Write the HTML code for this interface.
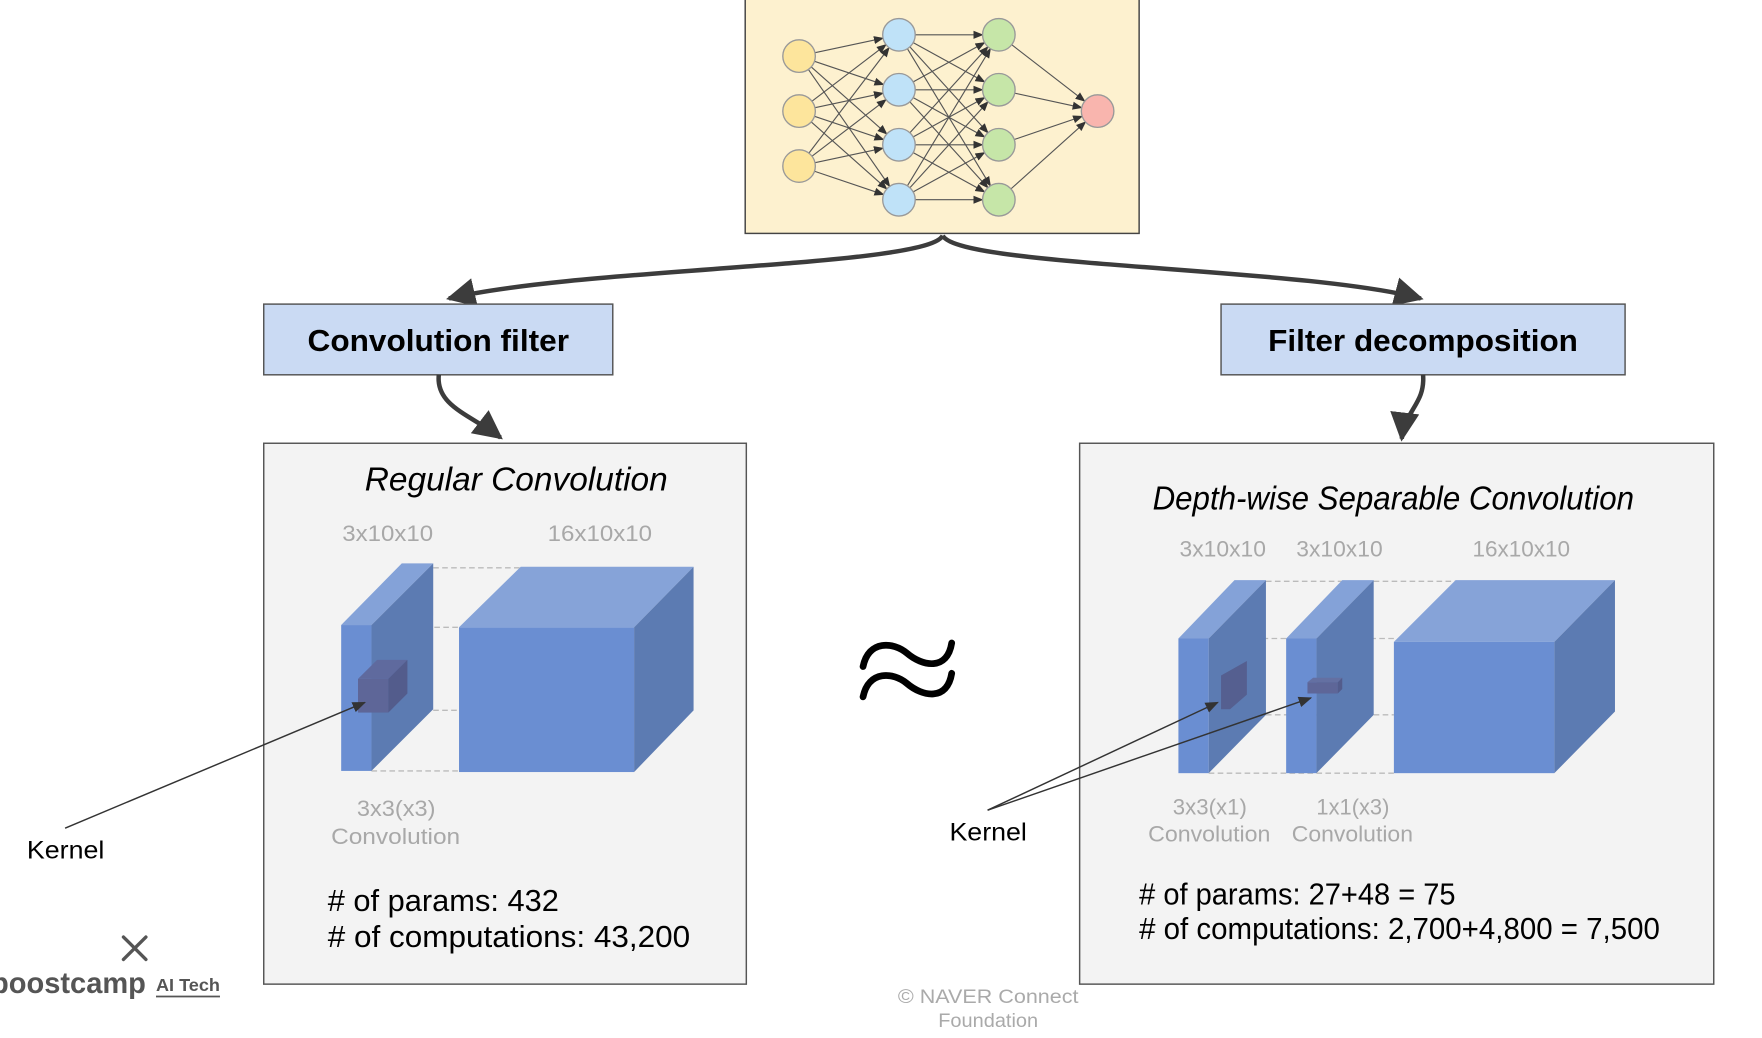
<!DOCTYPE html>
<html><head><meta charset="utf-8"><style>
html,body{margin:0;padding:0;background:#fff;}
svg{display:block;}
text{font-family:"Liberation Sans","DejaVu Sans",sans-serif;}
.g{fill:#a8a8a8;font-size:20px;}
.b{fill:#000;font-size:27px;}
</style></head><body>
<svg id="s" width="1762" height="1038" viewBox="0 0 1570 925" preserveAspectRatio="none" xmlns="http://www.w3.org/2000/svg">
<defs>
<marker id="ah" viewBox="0 0 10 10" refX="9" refY="5" markerWidth="9" markerHeight="9" orient="auto" markerUnits="userSpaceOnUse"><path d="M0,1 L10,5 L0,9 z" fill="#333"/></marker>
<marker id="big" viewBox="0 0 10 10" refX="9" refY="5" markerWidth="26" markerHeight="26" orient="auto" markerUnits="userSpaceOnUse"><path d="M0,0 L10,5 L0,10 z" fill="#3c3c3c"/></marker>
<marker id="sm" viewBox="0 0 10 10" refX="9" refY="5" markerWidth="12" markerHeight="12" orient="auto" markerUnits="userSpaceOnUse"><path d="M0,1 L10,5 L0,9 z" fill="#333"/></marker>
</defs>
<rect x="664" y="-1" width="351" height="209" fill="#fdf1cf" stroke="#444" stroke-width="1.3"/>
<g id="edges" stroke="#555" stroke-width="1"></g>
<g id="nodes" stroke="#999" stroke-width="1.2"></g>

<path d="M840,210 C825,238 520,238 400,266" fill="none" stroke="#3c3c3c" stroke-width="4" marker-end="url(#big)"/>
<path d="M840,210 C855,238 1160,238 1266,266" fill="none" stroke="#3c3c3c" stroke-width="4" marker-end="url(#big)"/>

<rect x="235" y="271" width="311" height="63" fill="#cadaf3" stroke="#555" stroke-width="1.3"/>
<text x="274" y="313" textLength="233" lengthAdjust="spacingAndGlyphs" style="font-weight:bold;font-size:27px">Convolution filter</text>
<rect x="1088" y="271" width="360" height="63" fill="#cadaf3" stroke="#555" stroke-width="1.3"/>
<text x="1130" y="313" textLength="276" lengthAdjust="spacingAndGlyphs" style="font-weight:bold;font-size:27px">Filter decomposition</text>

<path d="M391,334 C388,362 420,370 446,390" fill="none" stroke="#3c3c3c" stroke-width="4" marker-end="url(#big)"/>
<path d="M1268,334 C1270,360 1252,365 1249,391" fill="none" stroke="#3c3c3c" stroke-width="4" marker-end="url(#big)"/>

<rect x="235" y="395" width="430" height="482" fill="#f3f3f3" stroke="#555" stroke-width="1.3"/>
<rect x="962" y="395" width="565" height="482" fill="#f3f3f3" stroke="#555" stroke-width="1.3"/>

<text x="325" y="437" textLength="270" lengthAdjust="spacingAndGlyphs" style="font-style:italic;font-size:30px">Regular Convolution</text>
<text class="g" x="305" y="482" textLength="81" lengthAdjust="spacingAndGlyphs">3x10x10</text>
<text class="g" x="488" y="482" textLength="93" lengthAdjust="spacingAndGlyphs">16x10x10</text>

<g stroke="#bbb" stroke-width="1.2" stroke-dasharray="5,3">
<line x1="386" y1="506" x2="464" y2="506"/><line x1="331" y1="559" x2="409" y2="559"/>
<line x1="386" y1="633" x2="409" y2="633"/><line x1="331" y1="687" x2="409" y2="687"/>
</g>
<polygon points="304,557 358,502 386,502 331,557" fill="#84a2d8"/>
<rect x="304" y="557" width="27" height="130" fill="#6a8ed2"/>
<polygon points="331,557 386,502 386,632 331,687" fill="#5c7bb2"/>
<polygon points="319,605 336,588 363,588 346,605" fill="#5f6a9e"/>
<rect x="319" y="605" width="27" height="30" fill="#5e6698"/>
<polygon points="346,605 363,588 363,618 346,635" fill="#535c8c"/>
<polygon points="409,559 464,505 618,505 565,559" fill="#86a3d8"/>
<rect x="409" y="559" width="156" height="129" fill="#6a8ed2"/>
<polygon points="565,559 618,505 618,633 565,688" fill="#5c7bb2"/>

<text class="g" x="318" y="727" textLength="70" lengthAdjust="spacingAndGlyphs">3x3(x3)</text>
<text class="g" x="295" y="752" textLength="115" lengthAdjust="spacingAndGlyphs">Convolution</text>
<text class="b" x="292" y="812" textLength="206" lengthAdjust="spacingAndGlyphs"># of params: 432</text>
<text class="b" x="292" y="844" textLength="323" lengthAdjust="spacingAndGlyphs"># of computations: 43,200</text>

<line x1="58" y1="738" x2="325" y2="626" stroke="#333" stroke-width="1.3" marker-end="url(#sm)"/>
<text x="24" y="765" textLength="69" lengthAdjust="spacingAndGlyphs" style="font-size:22px">Kernel</text>

<path d="M769,594 C774,570 796,572 808,582 C822,594 844,598 848,573" fill="none" stroke="#000" stroke-width="6" stroke-linecap="round"/>
<path d="M769,621 C774,597 796,599 808,609 C822,621 844,625 848,600" fill="none" stroke="#000" stroke-width="6" stroke-linecap="round"/>

<text x="1027" y="454" textLength="429" lengthAdjust="spacingAndGlyphs" style="font-style:italic;font-size:30px">Depth-wise Separable Convolution</text>
<text class="g" x="1051" y="496" textLength="77" lengthAdjust="spacingAndGlyphs">3x10x10</text>
<text class="g" x="1155" y="496" textLength="77" lengthAdjust="spacingAndGlyphs">3x10x10</text>
<text class="g" x="1312" y="496" textLength="87" lengthAdjust="spacingAndGlyphs">16x10x10</text>
<g stroke="#bbb" stroke-width="1.2" stroke-dasharray="5,3">
<line x1="1128" y1="518" x2="1297" y2="518"/><line x1="1077" y1="569" x2="1242" y2="569"/>
<line x1="1128" y1="637" x2="1242" y2="637"/><line x1="1077" y1="689" x2="1242" y2="689"/>
</g>
<polygon points="1050,569 1100,517 1128,517 1077,569" fill="#84a2d8"/>
<rect x="1050" y="569" width="27" height="120" fill="#6a8ed2"/>
<polygon points="1077,569 1128,517 1128,637 1077,689" fill="#5c7bb2"/>
<polygon points="1146,569 1196,517 1224,517 1173,569" fill="#84a2d8"/>
<rect x="1146" y="569" width="27" height="120" fill="#6a8ed2"/>
<polygon points="1173,569 1224,517 1224,637 1173,689" fill="#5c7bb2"/>
<polygon points="1088,602 1111,589 1111,619 1096,632 1088,632" fill="#555f90"/>
<polygon points="1165,608 1170,604 1196,604 1192,608" fill="#6470a2"/>
<rect x="1165" y="608" width="27" height="10" fill="#5e6698"/>
<polygon points="1192,608 1196,604 1196,614 1192,618" fill="#535c8c"/>
<polygon points="1242,572 1297,517 1439,517 1385,572" fill="#86a3d8"/>
<rect x="1242" y="572" width="143" height="117" fill="#6a8ed2"/>
<polygon points="1385,572 1439,517 1439,634 1385,689" fill="#5c7bb2"/>

<line x1="880" y1="722" x2="1085" y2="626" stroke="#333" stroke-width="1.3" marker-end="url(#sm)"/>
<line x1="880" y1="722" x2="1168" y2="622" stroke="#333" stroke-width="1.3" marker-end="url(#sm)"/>
<text x="846" y="749" textLength="69" lengthAdjust="spacingAndGlyphs" style="font-size:22px">Kernel</text>

<text class="g" x="1045" y="726" textLength="66" lengthAdjust="spacingAndGlyphs">3x3(x1)</text>
<text class="g" x="1023" y="750" textLength="109" lengthAdjust="spacingAndGlyphs">Convolution</text>
<text class="g" x="1173" y="726" textLength="65" lengthAdjust="spacingAndGlyphs">1x1(x3)</text>
<text class="g" x="1151" y="750" textLength="108" lengthAdjust="spacingAndGlyphs">Convolution</text>
<text class="b" x="1015" y="806" textLength="282" lengthAdjust="spacingAndGlyphs"># of params: 27+48 = 75</text>
<text class="b" x="1015" y="837" textLength="464" lengthAdjust="spacingAndGlyphs"># of computations: 2,700+4,800 = 7,500</text>

<path d="M110,835 L130,855 M130,835 L110,855" stroke="#555" stroke-width="3" stroke-linecap="round"/>
<text x="-8" y="885" textLength="138" lengthAdjust="spacingAndGlyphs" style="font-weight:bold;font-size:26px;fill:#555">boostcamp</text>
<text x="139" y="883" textLength="57" lengthAdjust="spacingAndGlyphs" style="font-weight:bold;font-size:16px;fill:#555">AI Tech</text>
<line x1="139" y1="888" x2="196" y2="888" stroke="#555" stroke-width="1.5"/>

<text x="800" y="894" textLength="161" lengthAdjust="spacingAndGlyphs" style="font-size:17px;fill:#aaa">© NAVER Connect</text>
<text x="836" y="915" textLength="89" lengthAdjust="spacingAndGlyphs" style="font-size:17px;fill:#aaa">Foundation</text>
</svg>
<script>
(function(){
var ns="http://www.w3.org/2000/svg";
var L=[[712,[50,99,148],"#fde59c"],[801,[31,80,129,178],"#bfe2f8"],[890,[31,80,129,178],"#c6e6a8"],[978,[99],"#f9b5ae"]];
var r=14.5,E=document.getElementById("edges"),N=document.getElementById("nodes");
for(var i=0;i<3;i++){var a=L[i],b=L[i+1];
a[1].forEach(function(y1){b[1].forEach(function(y2){
var dx=b[0]-a[0],dy=y2-y1,d=Math.sqrt(dx*dx+dy*dy);
var l=document.createElementNS(ns,"line");
l.setAttribute("x1",a[0]+dx/d*r);l.setAttribute("y1",y1+dy/d*r);
l.setAttribute("x2",b[0]-dx/d*r);l.setAttribute("y2",y2-dy/d*r);
l.setAttribute("marker-end","url(#ah)");E.appendChild(l);});});}
L.forEach(function(a){a[1].forEach(function(y){var c=document.createElementNS(ns,"circle");
c.setAttribute("cx",a[0]);c.setAttribute("cy",y);c.setAttribute("r",r);c.setAttribute("fill",a[2]);N.appendChild(c);});});
})();
</script>
</body></html>
